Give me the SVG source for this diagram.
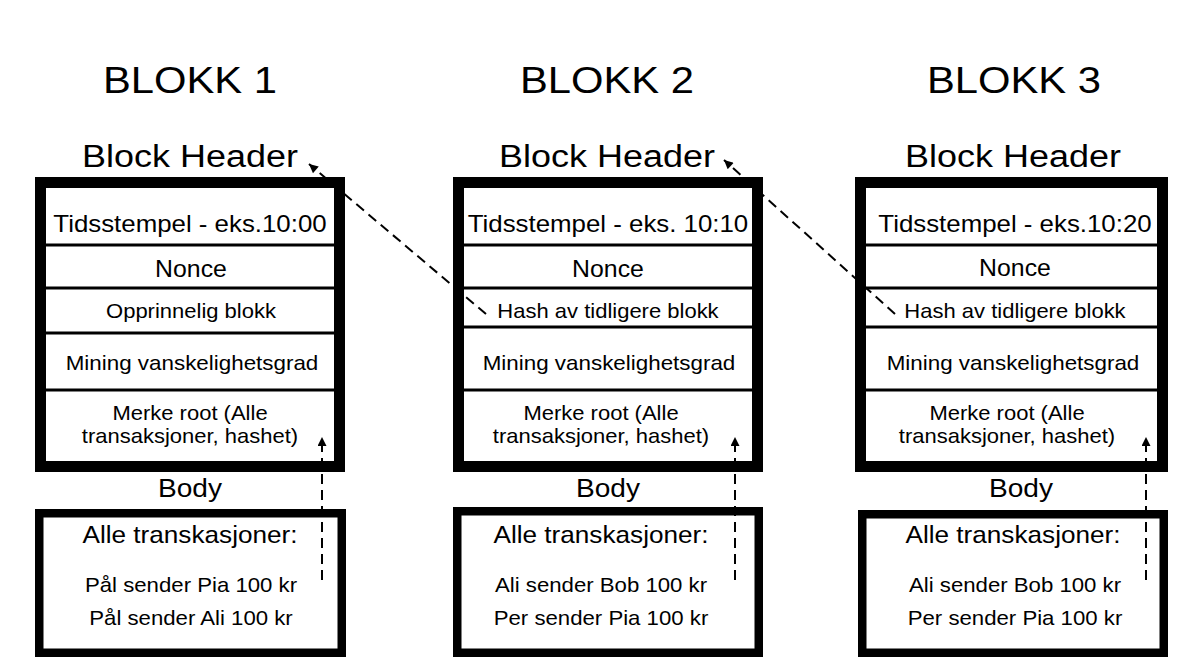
<svg xmlns="http://www.w3.org/2000/svg" width="1200" height="668" viewBox="0 0 1200 668">
<style>
text{font-family:"Liberation Sans",Arial,sans-serif;fill:#000;text-anchor:middle}
.t1{font-size:36px}
.t2{font-size:31px}
.t3{font-size:23.5px}
.t4{font-size:23px}
.t5{font-size:20px}
.t6{font-size:26px}
.t7{font-size:24px}
.hdr{fill:#fff;stroke:#000;stroke-width:11}
.bdy{fill:#fff;stroke:#000;stroke-width:8.5}
.div{stroke:#000;stroke-width:3}
.con{fill:none;stroke:#000;stroke-width:2;stroke-dasharray:10 6}
</style>
<defs>
<marker id="ah" viewBox="0 0 10 10" refX="10" refY="5" markerWidth="11" markerHeight="9" markerUnits="userSpaceOnUse" orient="auto">
<path d="M0,0 L10,5 L0,10 z" fill="#000"/>
</marker>
</defs>
<rect width="1200" height="668" fill="#fff"/>

<g id="title1"><text class="t1" transform="translate(190 93) scale(1.16 1)">BLOKK 1</text></g>
<g id="title2"><text class="t1" transform="translate(607 93) scale(1.16 1)">BLOKK 2</text></g>
<g id="title3"><text class="t1" transform="translate(1014 93) scale(1.16 1)">BLOKK 3</text></g>

<g id="block1-header">
<text class="t2" transform="translate(190 167) scale(1.16 1)">Block Header</text>
<rect class="hdr" x="40.5" y="182.5" width="299" height="284"/>
<line class="div" x1="46" y1="245" x2="335" y2="245"/>
<line class="div" x1="46" y1="288" x2="335" y2="288"/>
<line class="div" x1="46" y1="333" x2="335" y2="333"/>
<line class="div" x1="46" y1="390" x2="335" y2="390"/>
<text class="t3" transform="translate(190 232) scale(1.1 1)">Tidsstempel - eks.10:00</text>
<text class="t4" transform="translate(191 277) scale(1.08 1)">Nonce</text>
<text class="t5" transform="translate(191 318) scale(1.1 1)">Opprinnelig blokk</text>
<text class="t5" transform="translate(192 370) scale(1.12 1)">Mining vanskelighetsgrad</text>
<text class="t5" transform="translate(190 420) scale(1.1 1)">Merke root (Alle</text>
<text class="t5" transform="translate(190 443) scale(1.1 1)">transaksjoner, hashet)</text>
</g>
<g id="block1-body">
<text class="t6" transform="translate(190 497) scale(1.08 1)">Body</text>
<rect class="bdy" x="39.25" y="513.25" width="302.5" height="139.5"/>
<text class="t7" transform="translate(190 543) scale(1.09 1)">Alle transkasjoner:</text>
<text class="t5" transform="translate(191 592) scale(1.11 1)">Pål sender Pia 100 kr</text>
<text class="t5" transform="translate(191 625) scale(1.11 1)">Pål sender Ali 100 kr</text>
</g>

<g id="block2-header">
<text class="t2" transform="translate(607 167) scale(1.16 1)">Block Header</text>
<rect class="hdr" x="458.5" y="182.5" width="299" height="284"/>
<line class="div" x1="463" y1="245" x2="752" y2="245"/>
<line class="div" x1="463" y1="288" x2="752" y2="288"/>
<line class="div" x1="463" y1="327" x2="752" y2="327"/>
<line class="div" x1="463" y1="390" x2="752" y2="390"/>
<text class="t3" transform="translate(608 232) scale(1.1 1)">Tidsstempel - eks. 10:10</text>
<text class="t4" transform="translate(608 277) scale(1.08 1)">Nonce</text>
<text class="t5" transform="translate(608 318) scale(1.1 1)">Hash av tidligere blokk</text>
<text class="t5" transform="translate(609 370) scale(1.12 1)">Mining vanskelighetsgrad</text>
<text class="t5" transform="translate(601 420) scale(1.1 1)">Merke root (Alle</text>
<text class="t5" transform="translate(601 443) scale(1.1 1)">transaksjoner, hashet)</text>
</g>
<g id="block2-body">
<text class="t6" transform="translate(608 497) scale(1.08 1)">Body</text>
<rect class="bdy" x="457.25" y="511.25" width="301.5" height="141.5"/>
<text class="t7" transform="translate(601 543) scale(1.09 1)">Alle transkasjoner:</text>
<text class="t5" transform="translate(601 592) scale(1.11 1)">Ali sender Bob 100 kr</text>
<text class="t5" transform="translate(601 625) scale(1.11 1)">Per sender Pia 100 kr</text>
</g>

<g id="block3-header">
<text class="t2" transform="translate(1013 167) scale(1.16 1)">Block Header</text>
<rect class="hdr" x="860.5" y="182.5" width="302" height="284"/>
<line class="div" x1="866" y1="245" x2="1157" y2="245"/>
<line class="div" x1="866" y1="288" x2="1157" y2="288"/>
<line class="div" x1="866" y1="327" x2="1157" y2="327"/>
<line class="div" x1="866" y1="390" x2="1157" y2="390"/>
<text class="t3" transform="translate(1015 232) scale(1.1 1)">Tidsstempel - eks.10:20</text>
<text class="t4" transform="translate(1015 276) scale(1.08 1)">Nonce</text>
<text class="t5" transform="translate(1015 318) scale(1.1 1)">Hash av tidligere blokk</text>
<text class="t5" transform="translate(1013 370) scale(1.12 1)">Mining vanskelighetsgrad</text>
<text class="t5" transform="translate(1007 420) scale(1.1 1)">Merke root (Alle</text>
<text class="t5" transform="translate(1007 443) scale(1.1 1)">transaksjoner, hashet)</text>
</g>
<g id="block3-body">
<text class="t6" transform="translate(1021 497) scale(1.08 1)">Body</text>
<rect class="bdy" x="862.25" y="514.25" width="301.5" height="138.5"/>
<text class="t7" transform="translate(1013 543) scale(1.09 1)">Alle transkasjoner:</text>
<text class="t5" transform="translate(1015 592) scale(1.11 1)">Ali sender Bob 100 kr</text>
<text class="t5" transform="translate(1015 625) scale(1.11 1)">Per sender Pia 100 kr</text>
</g>

<g id="connectors">
<line class="con" x1="322" y1="580" x2="322" y2="437" marker-end="url(#ah)"/>
<line class="con" x1="735" y1="580" x2="735" y2="437" marker-end="url(#ah)"/>
<line class="con" x1="1146" y1="580" x2="1146" y2="437" marker-end="url(#ah)"/>
<line class="con" x1="486" y1="314" x2="309" y2="164" marker-end="url(#ah)"/>
<line class="con" x1="895" y1="314" x2="724" y2="160" marker-end="url(#ah)"/>
</g>
</svg>
